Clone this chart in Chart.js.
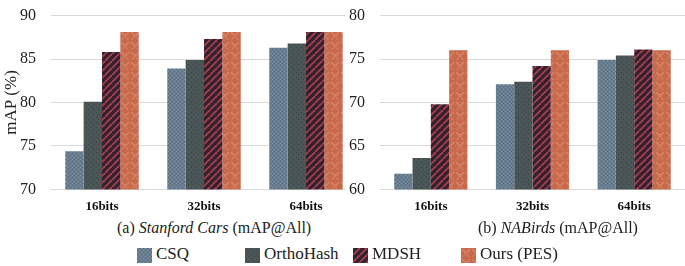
<!DOCTYPE html>
<html>
<head>
<meta charset="utf-8">
<title>mAP comparison</title>
<script src="https://cdn.jsdelivr.net/npm/chart.js@4.4.1/dist/chart.umd.min.js"></script>
<style>
  body { margin: 0; background: #fff; width: 685px; height: 266px; overflow: hidden; position: relative; font-family: "Liberation Serif", "Times New Roman", Times, serif; color: #222; }
  #left { position: absolute; left: 0; top: -9px; }
  #right { position: absolute; left: 345px; top: -9px; background: #fff; }
  .cap { position: absolute; top: 219px; font-size: 16px; white-space: nowrap; }
  #legend { position: absolute; top: 244px; left: 0; width: 685px; height: 22px; font-size: 17px; }
  .item { position: absolute; top: 0; white-space: nowrap; }
  .item canvas { position: absolute; top: 4px; left: 0; }
  .item span { position: absolute; left: 19px; top: 0; }
</style>
</head>
<body>
<canvas id="left" width="357" height="224"></canvas>
<canvas id="right" width="340" height="224"></canvas>
<div class="cap" id="capA">(a) <i>Stanford Cars</i> (mAP@All)</div>
<div class="cap" id="capB">(b) <i>NABirds</i> (mAP@All)</div>
<div id="legend"></div>

<script>
// data
var bits = ['16bits', '32bits', '64bits'];
var methods = ['CSQ', 'OrthoHash', 'MDSH', 'Ours (PES)'];

// (a) Stanford Cars, mAP@All
var carsCSQ   = [74.4, 83.9, 86.3];
var carsOrtho = [80.1, 84.9, 86.8];
var carsMDSH  = [85.8, 87.3, 88.1];
var carsPES   = [88.1, 88.1, 88.1];

// (b) NABirds, mAP@All
var birdsCSQ   = [61.8, 72.1, 74.9];
var birdsOrtho = [63.6, 72.4, 75.4];
var birdsMDSH  = [69.8, 74.2, 76.1];
var birdsPES   = [76.0, 76.0, 76.0];

var carsTicks = [70, 75, 80, 85, 90];
var birdsTicks = [60, 65, 70, 75, 80];

// textures for the bars
function makePattern(kind) {
  var c = document.createElement('canvas');
  var g = c.getContext('2d');
  if (kind == 0) {            // CSQ: slate blue, fine speckle
    c.width = 4; c.height = 4;
    g.fillStyle = '#687c90'; g.fillRect(0, 0, 4, 4);
    g.fillStyle = '#8194a6';
    g.fillRect(0, 0, 1, 1); g.fillRect(2, 2, 1, 1);
    g.fillStyle = '#5d7083';
    g.fillRect(2, 0, 1, 1); g.fillRect(0, 2, 1, 1);
  } else if (kind == 1) {     // OrthoHash: dark slate, sparse dots
    c.width = 5; c.height = 5;
    g.fillStyle = '#4a5657'; g.fillRect(0, 0, 5, 5);
    g.fillStyle = '#374142';
    g.fillRect(1, 1, 1, 1); g.fillRect(3, 3, 1, 1);
  } else if (kind == 2) {     // MDSH: dark purple with red diagonal stripes
    c.width = 7; c.height = 7;
    g.fillStyle = '#36202f'; g.fillRect(0, 0, 7, 7);
    g.strokeStyle = '#a0404a'; g.lineWidth = 1.9;
    for (var k = -7; k <= 14; k += 7) {
      g.beginPath(); g.moveTo(k, 7); g.lineTo(k + 7, 0); g.stroke();
    }
  } else {                    // PES: orange with light wavy lines
    c.width = 10; c.height = 10;
    g.fillStyle = '#c8694b'; g.fillRect(0, 0, 10, 10);
    g.strokeStyle = '#d9876a'; g.lineWidth = 1;
    g.beginPath(); g.arc(5, 0, 4, 0.2, Math.PI - 0.2); g.stroke();
    g.beginPath(); g.arc(0, 5, 4, -1.2, 1.2); g.stroke();
    g.beginPath(); g.arc(10, 5, 4, Math.PI - 1.2, Math.PI + 1.2); g.stroke();
  }
  return c;
}

var texCanvases = [0, 1, 2, 3].map(makePattern);
function fills(ctx) {
  return texCanvases.map(function(t) { return ctx.createPattern(t, 'repeat'); });
}

var serif = '"Liberation Serif", "Times New Roman", Times, serif';

function barChart(id, series, ticks, opts) {
  var ctx = document.getElementById(id).getContext('2d');
  var pats = fills(ctx);
  return new Chart(ctx, {
    type: 'bar',
    data: {
      labels: bits,
      datasets: series.map(function(d, i) {
        return { label: methods[i], data: d, backgroundColor: pats[i], borderWidth: 0 };
      })
    },
    options: {
      responsive: false,
      animation: false,
      devicePixelRatio: 1,
      categoryPercentage: 0.72,
      barPercentage: 1.0,
      layout: { padding: opts.padding },
      plugins: { legend: { display: false }, tooltip: { enabled: false } },
      scales: {
        x: {
          grid: { display: false },
          border: { display: false },
          ticks: { color: '#111', padding: 1, font: { family: serif, size: 13, weight: 'bold' } }
        },
        y: {
          min: ticks[0], max: ticks[ticks.length - 1],
          afterBuildTicks: function(s) { s.ticks = ticks.map(function(v) { return { value: v }; }); },
          afterFit: function(s) { s.width = opts.yWidth; },
          grid: { color: '#d9d9d9', lineWidth: 1, drawTicks: false },
          border: { display: false },
          ticks: { color: '#222', padding: 15, font: { family: serif, size: 16 } },
          title: {
            display: !!opts.title, text: opts.title || '', color: '#222',
            padding: { top: 1, bottom: 2 },
            font: { family: serif, size: 17 }
          }
        }
      }
    }
  });
}

var chartA = barChart('left', [carsCSQ, carsOrtho, carsMDSH, carsPES], carsTicks,
  { yWidth: 51, title: 'mAP (%)', padding: { left: 0, right: 0, top: 0, bottom: 0 } });
var chartB = barChart('right', [birdsCSQ, birdsOrtho, birdsMDSH, birdsPES], birdsTicks,
  { yWidth: 35, padding: { left: 0, right: 0, top: 0, bottom: 0 } });

// captions
document.getElementById('capA').style.left = '117px';
document.getElementById('capB').style.left = '478px';

// shared legend
var legendX = [137, 245, 353, 461];
var legend = document.getElementById('legend');
methods.forEach(function(m, i) {
  var d = document.createElement('div');
  d.className = 'item';
  d.style.left = legendX[i] + 'px';
  var sw = document.createElement('canvas');
  sw.width = 15; sw.height = 15;
  var g = sw.getContext('2d');
  g.fillStyle = g.createPattern(texCanvases[i], 'repeat');
  g.fillRect(0, 0, 15, 15);
  var s = document.createElement('span');
  s.textContent = m;
  d.appendChild(sw); d.appendChild(s);
  legend.appendChild(d);
});
</script>
</body>
</html>
